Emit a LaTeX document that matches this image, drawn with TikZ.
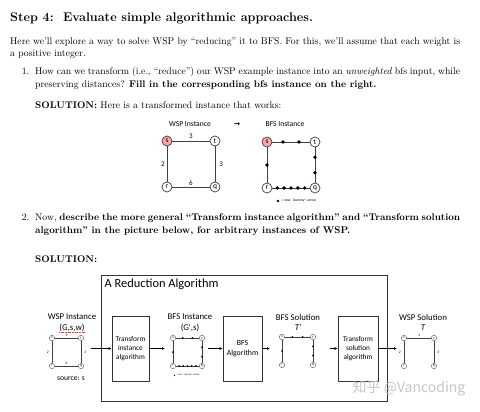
\documentclass[tikz,border=0pt]{standalone}
\usepackage{fontspec}
\newfontfamily\diag{Carlito}
\newfontfamily\arrowfont{DejaVu Sans}
\newfontfamily\cjk{Noto Sans CJK SC}
\usetikzlibrary{calc,positioning,arrows.meta}

\begin{document}
\begin{tikzpicture}[x=1pt,y=-1pt,
  txt/.style={anchor=base west, inner sep=0pt, font=\fontsize{9.7}{11}\selectfont},
  head/.style={font=\diag\fontsize{8.8}{10}\selectfont, inner sep=0pt},
  lbl/.style={font=\diag\fontsize{7}{8}\selectfont, inner sep=0pt},
  slbl/.style={font=\diag\fontsize{3.6}{4}\selectfont, inner sep=0pt},
  vtx/.style={circle, draw=black!75, line width=0.7pt, fill=white, inner sep=0pt, minimum size=10pt, font=\diag\fontsize{7.5}{8}\selectfont},
  src/.style={vtx, fill=red!35},
  svtx/.style={circle, draw=black!70, line width=0.35pt, fill=white, inner sep=0pt, minimum size=5.4pt, font=\diag\fontsize{3.6}{4}\selectfont},
  dum/.style={circle, fill=black, inner sep=0pt, minimum size=3.8pt},
  sdum/.style={circle, fill=black, inner sep=0pt, minimum size=2pt},
  edge/.style={draw=black!75, line width=0.9pt},
  sedge/.style={draw=black!75, line width=0.5pt},
  algbox/.style={draw=black!80, line width=0.9pt, minimum height=65pt, align=center, font=\diag\fontsize{7.3}{9}\selectfont},
  flow/.style={-{Latex[length=3pt,width=3pt]}, line width=0.7pt}
]
\useasboundingbox[fill=white] (0,0) rectangle (480,412);

% text of the exercise
\node[txt, font=\bfseries\fontsize{12.6}{14}\selectfont] (title) at (10,22) {Step 4:\ \ Evaluate simple algorithmic approaches.};
\node[txt] (intro1) at (10,44.3) {\makebox[450pt][s]{Here we'll explore a way to solve WSP by ``reducing'' it to BFS. For this, we'll assume that each weight is}};
\node[txt] (intro2) at (10,57) {a positive integer.};
\node[txt] (n1) at (21.7,75) {1.};
\node[txt] (q1a) at (35,75) {\makebox[425pt][s]{How can we transform (i.e., ``reduce'') our WSP example instance into an \emph{unweighted} bfs input, while}};
\node[txt] (q1b) at (35,87.3) {preserving distances? \textbf{Fill in the corresponding bfs instance on the right.}};
\node[txt] (sol1) at (35,109) {\textbf{SOLUTION:} Here is a transformed instance that works:};
\node[txt] (n2) at (21.7,220.7) {2.};
\node[txt] (q2a) at (35,220.7) {\makebox[425pt][s]{Now, \textbf{describe the more general ``Transform instance algorithm'' and ``Transform solution}}};
\node[txt] (q2b) at (35,233.3) {\textbf{algorithm'' in the picture below, for arbitrary instances of WSP.}};
\node[txt] (sol2) at (35,262.3) {\textbf{SOLUTION:}};

% WSP instance -> BFS instance
\node[lbl, font=\diag\fontsize{7.6}{8}\selectfont] (wsp-head) at (190,124) {WSP Instance};
\node[lbl, font=\arrowfont\bfseries\fontsize{7.5}{8}\selectfont] (to-head) at (237,124) {→};
\node[lbl, font=\diag\fontsize{7.6}{8}\selectfont] (bfs-head) at (285,124) {BFS Instance};

\node[src] (a-s) at (167,141) {s};
\node[vtx] (a-t) at (215,141) {t};
\node[vtx] (a-r) at (167,187) {r};
\node[vtx] (a-q) at (215,187) {q};
\draw[edge] (a-s) -- node[lbl, above=2.5pt] {3} (a-t);
\draw[edge] (a-t) -- node[lbl, right=4pt] {3} (a-q);
\draw[edge] (a-q) -- node[lbl, above=1pt] {6} (a-r);
\draw[edge] (a-r) -- node[lbl, left=2pt] {2} (a-s);

\node[src] (b-s) at (267,142) {s};
\node[vtx] (b-t) at (315,142) {t};
\node[vtx] (b-r) at (267,188) {r};
\node[vtx] (b-q) at (315,188) {q};
\draw[edge] (b-s) -- (b-t) -- (b-q) -- (b-r) -- (b-s);
\foreach \k/\p in {1/0.333,2/0.667}{
  \node[dum] (b-st\k) at ($(b-s)!\p!(b-t)$) {};
  \node[dum] (b-tq\k) at ($(b-t)!\p!(b-q)$) {};
}
\node[dum] (b-rs1) at ($(b-r)!0.5!(b-s)$) {};
\foreach \k/\p in {1/0.214,2/0.357,3/0.5,4/0.643,5/0.786}
  \node[dum] (b-rq\k) at ($(b-r)!\p!(b-q)$) {};
\node[dum, minimum size=2.6pt] (b-key) at (278,201) {};
\node[slbl, anchor=west, right=2pt of b-key] (b-keytxt) {= new ``dummy'' vertex};

% the reduction
\node[draw=black!80, line width=1pt, minimum width=286pt, minimum height=126pt] (frame) at (244,338) {};
\node[anchor=base west, inner sep=0pt, font=\diag\fontsize{12.4}{14}\selectfont] (frame-title) at (104.5,287.3) {A Reduction Algorithm};

\node[head] (c-head) at (72,317) {WSP Instance};
\node[head] (c-sub) at (72,328) {(G,s,w)};
\draw[red!80, line width=0.4pt, densely dotted] ([yshift=-0.6pt]c-sub.south west) -- ([yshift=-0.6pt]c-sub.south east);
\node[svtx] (c-s) at (52,338) {s};
\node[svtx] (c-t) at (81,338) {t};
\node[svtx] (c-r) at (52,366) {r};
\node[svtx] (c-q) at (81,366) {q};
\draw[sedge] (c-s) -- node[slbl, above=1pt] {3} (c-t);
\draw[sedge] (c-t) -- node[slbl, right=3pt] {3} (c-q);
\draw[sedge] (c-q) -- node[slbl, above=1pt] {6} (c-r);
\draw[sedge] (c-r) -- node[slbl, left=3pt] {2} (c-s);
\node[head, font=\diag\fontsize{7.6}{9}\selectfont] (c-src) at (71,379) {source: s};

\node[algbox, minimum width=37pt] (in1) at (130.5,348.5) {Transform\\instance\\algorithm};

\node[head] (d-head) at (190,317) {BFS Instance};
\node[head] (d-sub) at (190,328) {(G',s)};
\node[svtx] (d-s) at (173,338) {s};
\node[svtx] (d-t) at (202,338) {t};
\node[svtx] (d-r) at (173,366) {r};
\node[svtx] (d-q) at (202,366) {q};
\draw[sedge] (d-s) -- (d-t) -- (d-q) -- (d-r) -- (d-s);
\foreach \k/\p in {1/0.333,2/0.667}{
  \node[sdum] (d-st\k) at ($(d-s)!\p!(d-t)$) {};
  \node[sdum] (d-tq\k) at ($(d-t)!\p!(d-q)$) {};
}
\node[sdum] (d-rs1) at ($(d-r)!0.5!(d-s)$) {};
\foreach \k/\p in {1/0.214,2/0.357,3/0.5,4/0.643,5/0.786}
  \node[sdum] (d-rq\k) at ($(d-r)!\p!(d-q)$) {};
\node[sdum, minimum size=1.4pt] (d-key) at (174.5,375.3) {};
\node[inner sep=0pt, anchor=west, font=\diag\fontsize{2.4}{3}\selectfont, right=1pt of d-key] (d-keytxt) {= new ``dummy'' vertex};

\node[algbox, minimum width=39pt, font=\diag\fontsize{7.8}{9.5}\selectfont] (bfs) at (242.5,348.5) {BFS\\Algorithm};

\node[head] (e-head) at (298,317) {BFS Solution};
\node[head] (e-sub) at (298,327.5) {\itshape T'};
\node[svtx] (e-s) at (282,337) {s};
\node[svtx] (e-t) at (313,337) {t};
\node[svtx] (e-r) at (282,365) {r};
\node[svtx] (e-q) at (313,365) {q};
\draw[sedge] (e-r) -- (e-s) -- (e-t) -- (e-q);
\foreach \k/\p in {1/0.333,2/0.667}{
  \node[sdum] (e-st\k) at ($(e-s)!\p!(e-t)$) {};
  \node[sdum] (e-tq\k) at ($(e-t)!\p!(e-q)$) {};
}
\node[sdum] (e-rs1) at ($(e-r)!0.5!(e-s)$) {};

\node[algbox, minimum width=40pt] (sol) at (358,348.5) {Transform\\solution\\algorithm};

\node[head] (f-head) at (423,317) {WSP Solution};
\node[head] (f-sub) at (423,327.5) {\itshape T};
\node[svtx] (f-s) at (404,338) {s};
\node[svtx] (f-t) at (434,338) {t};
\node[svtx] (f-r) at (404,366) {r};
\node[svtx] (f-q) at (434,366) {q};
\draw[sedge] (f-s) -- node[slbl, above=1pt] {3} (f-t);
\draw[sedge] (f-t) -- node[slbl, right=3pt] {3} (f-q);
\draw[sedge] (f-r) -- node[slbl, left=3pt] {2} (f-s);

% arrows between the steps
\coordinate (c-out) at (91,348.5);
\coordinate (d-in) at (165,348.5);
\coordinate (d-out) at (208,348.5);
\coordinate (e-in) at (270,348.5);
\coordinate (e-out) at (330,348.5);
\coordinate (f-in) at (397,348.5);
\draw[flow] (c-out) -- (in1.west);
\draw[flow] (in1.east) -- (d-in);
\draw[flow] (d-out) -- (bfs.west);
\draw[flow] (bfs.east) -- (e-in);
\draw[flow] (e-out) -- (sol.west);
\draw[flow, line width=1pt] (sol.east) -- (f-in);

\node[inner sep=0pt, text=black!22, font=\cjk\fontsize{14}{16}\selectfont] (mark) at (409,388) {知乎 @Vancoding};
\end{tikzpicture}
\end{document}
